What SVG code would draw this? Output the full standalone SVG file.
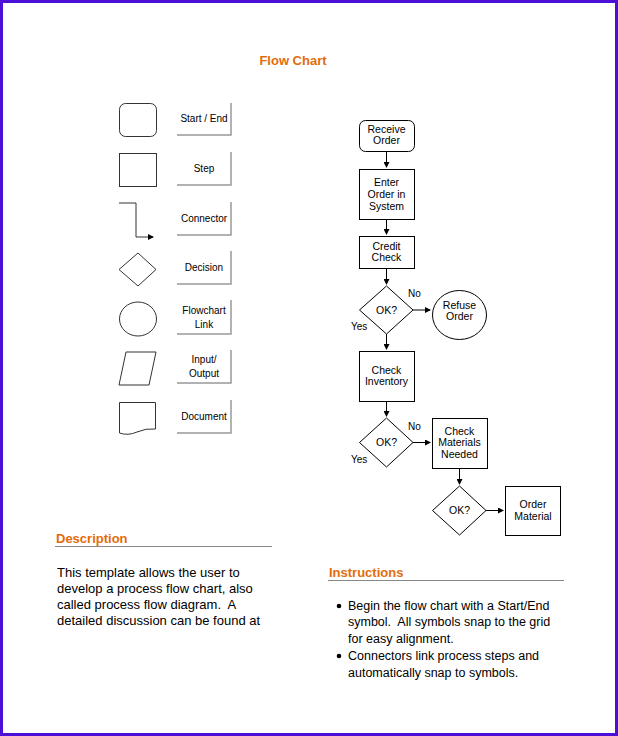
<svg xmlns="http://www.w3.org/2000/svg" width="618" height="736" viewBox="0 0 618 736">
<defs>
<marker id="ah" markerWidth="6" markerHeight="6" refX="5" refY="3" orient="auto" markerUnits="userSpaceOnUse">
<path d="M0,0 L6,3 L0,6 z" fill="#000"/>
</marker>
<style>
.sym{fill:#fff;stroke:#000;stroke-width:1}
.lsym{fill:#fff;stroke:#333;stroke-width:1}
.lbl{font-family:"Liberation Sans",Arial,sans-serif;font-size:10px;fill:#000;text-anchor:middle}
.sh{fill:none;stroke:#999;stroke-width:1.5}
.t{font-family:"Liberation Sans",Arial,sans-serif;font-size:10.5px;fill:#000;text-anchor:middle}
.yn{font-family:"Liberation Sans",Arial,sans-serif;font-size:10px;fill:#000}
.head{font-family:"Liberation Sans",Arial,sans-serif;font-size:13px;font-weight:bold;fill:#E36C0A}
.body{font-family:"Liberation Sans",Arial,sans-serif;font-size:13px;fill:#000;white-space:pre}
.ins{font-family:"Liberation Sans",Arial,sans-serif;font-size:12.5px;fill:#000;white-space:pre}
.con{fill:none;stroke:#000;stroke-width:1}
</style>
</defs>
<rect x="0" y="0" width="618" height="736" fill="#fff"/>
<rect x="1.5" y="1.5" width="615" height="733" fill="none" stroke="#4B0FD8" stroke-width="3"/>
<text x="293" y="65" class="head" text-anchor="middle">Flow Chart</text>

<g id="legend">
<g id="lg-start"><rect x="119.5" y="103.5" width="37" height="33" rx="6" class="lsym"/><path d="M177,135 H231 V103" class="sh"/><text x="204" y="122" class="lbl">Start / End</text></g>
<g id="lg-step"><rect x="119.5" y="153.5" width="37" height="33" class="lsym"/><path d="M177,185 H231 V152" class="sh"/><text x="204" y="172" class="lbl">Step</text></g>
<g id="lg-connector"><path d="M119,203 H136 V237 H153" fill="none" stroke="#333" stroke-width="1" marker-end="url(#ah)"/><path d="M177,235 H231 V202" class="sh"/><text x="204" y="222" class="lbl">Connector</text></g>
<g id="lg-decision"><path d="M138,253 L156,269.5 L138,286 L119,269.5 Z" class="lsym"/><path d="M177,284 H231 V251" class="sh"/><text x="204" y="271" class="lbl">Decision</text></g>
<g id="lg-link"><ellipse cx="138" cy="319" rx="18.5" ry="17" class="lsym"/><path d="M177,334 H231 V300" class="sh"/><text x="204" y="314" class="lbl">Flowchart</text><text x="204" y="328" class="lbl">Link</text></g>
<g id="lg-io"><path d="M126,352 H156 L149,385 H119 Z" class="lsym"/><path d="M177,383 H231 V350" class="sh"/><text x="204" y="363" class="lbl">Input/</text><text x="204" y="377" class="lbl">Output</text></g>
<g id="lg-doc"><path d="M119.5,402.5 H155.5 V429 Q146,428 137,432 Q128,436 119.5,433 Z" class="lsym"/><path d="M177,433 H231 V400" class="sh"/><text x="204" y="420" class="lbl">Document</text></g>
</g>

<g id="connectors">
<path d="M386.5,152 V167" class="con" marker-end="url(#ah)"/>
<path d="M386.5,219 V234" class="con" marker-end="url(#ah)"/>
<path d="M386.5,268 V284" class="con" marker-end="url(#ah)"/>
<path d="M413,310 H430" class="con" marker-end="url(#ah)"/>
<path d="M386.5,334 V349" class="con" marker-end="url(#ah)"/>
<path d="M386.5,401 V416" class="con" marker-end="url(#ah)"/>
<path d="M413,442.5 H430" class="con" marker-end="url(#ah)"/>
<path d="M459.5,468 V484" class="con" marker-end="url(#ah)"/>
<path d="M486,510.5 H503" class="con" marker-end="url(#ah)"/>
<text x="408" y="297" class="yn">No</text>
<text x="351" y="330" class="yn">Yes</text>
<text x="408" y="430" class="yn">No</text>
<text x="351" y="463" class="yn">Yes</text>
</g>

<g id="n-receive"><rect x="359.5" y="120.5" width="55" height="31" rx="6" class="sym"/><text x="386.5" y="133" class="t">Receive</text><text x="386.5" y="144" class="t">Order</text></g>
<g id="n-enter"><rect x="359.5" y="169.5" width="55" height="50" class="sym"/><text x="386.5" y="186" class="t">Enter</text><text x="386.5" y="198" class="t">Order in</text><text x="386.5" y="210" class="t">System</text></g>
<g id="n-credit"><rect x="359.5" y="236.5" width="55" height="32" class="sym"/><text x="386.5" y="250" class="t">Credit</text><text x="386.5" y="261" class="t">Check</text></g>
<g id="n-ok1"><path d="M386.5,286 L413,310 L386.5,334 L359.5,310 Z" class="sym"/><text x="386.5" y="314" class="t">OK?</text></g>
<g id="n-refuse"><ellipse cx="459.5" cy="315" rx="27" ry="24.5" class="sym"/><text x="459.5" y="309" class="t">Refuse</text><text x="459.5" y="320" class="t">Order</text></g>
<g id="n-inventory"><rect x="359.5" y="351.5" width="55" height="50" class="sym"/><text x="386.5" y="374" class="t">Check</text><text x="386.5" y="385" class="t">Inventory</text></g>
<g id="n-ok2"><path d="M386.5,418 L413,442.5 L386.5,467 L359.5,442.5 Z" class="sym"/><text x="386.5" y="446" class="t">OK?</text></g>
<g id="n-materials"><rect x="432.5" y="418.5" width="55" height="50" class="sym"/><text x="459.5" y="435" class="t">Check</text><text x="459.5" y="446" class="t">Materials</text><text x="459.5" y="458" class="t">Needed</text></g>
<g id="n-ok3"><path d="M459.5,486 L486,510.5 L459.5,535 L432.5,510.5 Z" class="sym"/><text x="459.5" y="514" class="t">OK?</text></g>
<g id="n-order"><rect x="505.5" y="486.5" width="55" height="49" class="sym"/><text x="533" y="508" class="t">Order</text><text x="533" y="520" class="t">Material</text></g>

<g id="description">
<text x="56" y="543" class="head">Description</text>
<line x1="55" y1="546.5" x2="272" y2="546.5" stroke="#888" stroke-width="1"/>
<text x="57" y="577" class="body">This template allows the user to</text>
<text x="57" y="593" class="body">develop a process flow chart, also</text>
<text x="57" y="609" class="body">called process flow diagram.  A</text>
<text x="57" y="625" class="body">detailed discussion can be found at</text>
</g>

<g id="instructions">
<text x="329" y="577" class="head">Instructions</text>
<line x1="328" y1="580.5" x2="564" y2="580.5" stroke="#888" stroke-width="1"/>
<circle cx="339" cy="606" r="2.3" fill="#000"/>
<text x="348" y="610" class="ins">Begin the flow chart with a Start/End</text>
<text x="348" y="626" class="ins">symbol.  All symbols snap to the grid</text>
<text x="348" y="643" class="ins">for easy alignment.</text>
<circle cx="339" cy="656" r="2.3" fill="#000"/>
<text x="348" y="660" class="ins">Connectors link process steps and</text>
<text x="348" y="677" class="ins">automatically snap to symbols.</text>
</g>
</svg>
